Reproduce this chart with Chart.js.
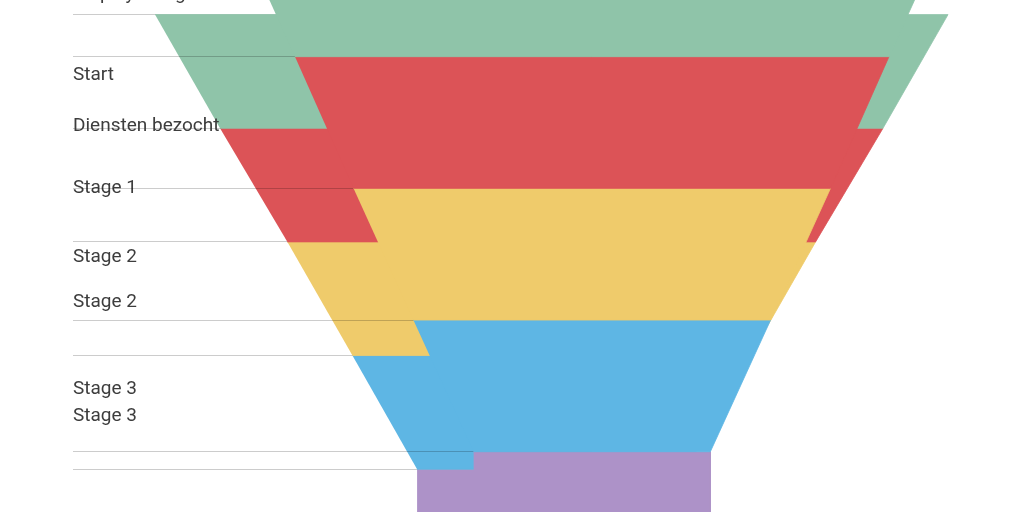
<!DOCTYPE html>
<html>
<head>
<meta charset="utf-8">
<script src="https://cdn.jsdelivr.net/npm/chart.js@4/dist/chart.umd.min.js"></script>
<style>
  html, body { margin: 0; padding: 0; background: #ffffff; }
  #wrap { position: relative; width: 1024px; height: 512px; overflow: hidden; }
  #wrap canvas { position: absolute; left: 0; top: 0; }
</style>
</head>
<body>
<div id="wrap">
  <canvas id="chartA" width="1024" height="512"></canvas>
  <canvas id="chartB" width="1024" height="512"></canvas>
</div>
<script>
// ---- data (two overlapping funnel renderings) ----
const categoriesA = ['Start', 'Stage 1', 'Stage 2', 'Stage 3', 'Purchase'];
const valuesA = [100, 83.6, 66.6, 50.2, 33.9];

const categoriesB = ['Displayweergave', 'Diensten bezocht', 'Stage 2', 'Stage 3', 'Purchase'];
const valuesB = [100, 83.3, 66.9, 50.1, 33.2];

// ---- styles ----
const stageColors = ['#8FC4A9', '#DC5357', '#EFCB6B', '#5EB6E4', '#AD92C8'];
const gridColor = 'rgba(0,0,0,0.2)';
const labelColor = '#3d3d3d';

Chart.defaults.font.family = 'Roboto, "Noto Sans", sans-serif';

function funnelDatasets(values, categories) {
  return values.map((v, i) => {
    const next = i < values.length - 1 ? values[i + 1] : v;
    return {
      label: categories[i],
      data: [
        { x: -v / 2, y: i },
        { x: v / 2, y: i },
        { x: next / 2, y: i + 1 },
        { x: -next / 2, y: i + 1 }
      ],
      showLine: true,
      fill: 'shape',
      backgroundColor: stageColors[i],
      borderColor: stageColors[i],
      borderWidth: 0.8,
      pointRadius: 0,
      pointHoverRadius: 0,
      tension: 0,
      clip: false
    };
  });
}

function stageTicks(categories) {
  const t = [];
  for (let i = 0; i <= categories.length; i++) {
    t.push({ value: i });
    if (i < categories.length) t.push({ value: i + 0.5 });
  }
  return t;
}

// clip the category grid lines so they stop under the funnel (at its centre line)
const gridClip = {
  id: 'gridClip',
  beforeDraw(chart) {
    const ctx = chart.ctx;
    const cx = chart.scales.x.getPixelForValue(0);
    ctx.save();
    ctx.beginPath();
    ctx.rect(0, 0, cx, chart.height);
    ctx.clip();
  },
  beforeDatasetsDraw(chart) {
    chart.ctx.restore();
  }
};

function makeChart(id, values, categories, xRange, yRange) {
  return new Chart(document.getElementById(id), {
    type: 'scatter',
    data: { datasets: funnelDatasets(values, categories) },
    plugins: [gridClip],
    options: {
      responsive: false,
      animation: false,
      events: [],
      layout: { padding: { left: 73, right: 0, top: 0, bottom: 0 } },
      plugins: { legend: { display: false }, tooltip: { enabled: false } },
      scales: {
        x: { type: 'linear', display: false, min: xRange[0], max: xRange[1] },
        y: {
          type: 'linear',
          reverse: true,
          min: yRange[0],
          max: yRange[1],
          afterBuildTicks(scale) { scale.ticks = stageTicks(categories); },
          border: { display: false },
          grid: {
            drawTicks: false,
            lineWidth: 1,
            color: (ctx) => (ctx.tick && Number.isInteger(ctx.tick.value)) ? gridColor : 'rgba(0,0,0,0)'
          },
          ticks: {
            mirror: true,
            padding: 0,
            labelOffset: 3.5,
            crossAlign: 'near',
            autoSkip: false,
            color: labelColor,
            font: (ctx) => (ctx.tick && Number.isInteger(ctx.tick.value))
              ? { size: 19, lineHeight: 0 }
              : { size: 19 },
            callback: (value) => Number.isInteger(value) ? '' : categories[Math.floor(value)]
          }
        }
      }
    }
  });
}

makeChart('chartA', valuesA, categoriesA, [-60.34, 59.58], [-0.1285, 4.3766]);
makeChart('chartB', valuesB, categoriesB, [-72.79, 60.59], [0.5694, 4.4579]);
</script>
</body>
</html>
